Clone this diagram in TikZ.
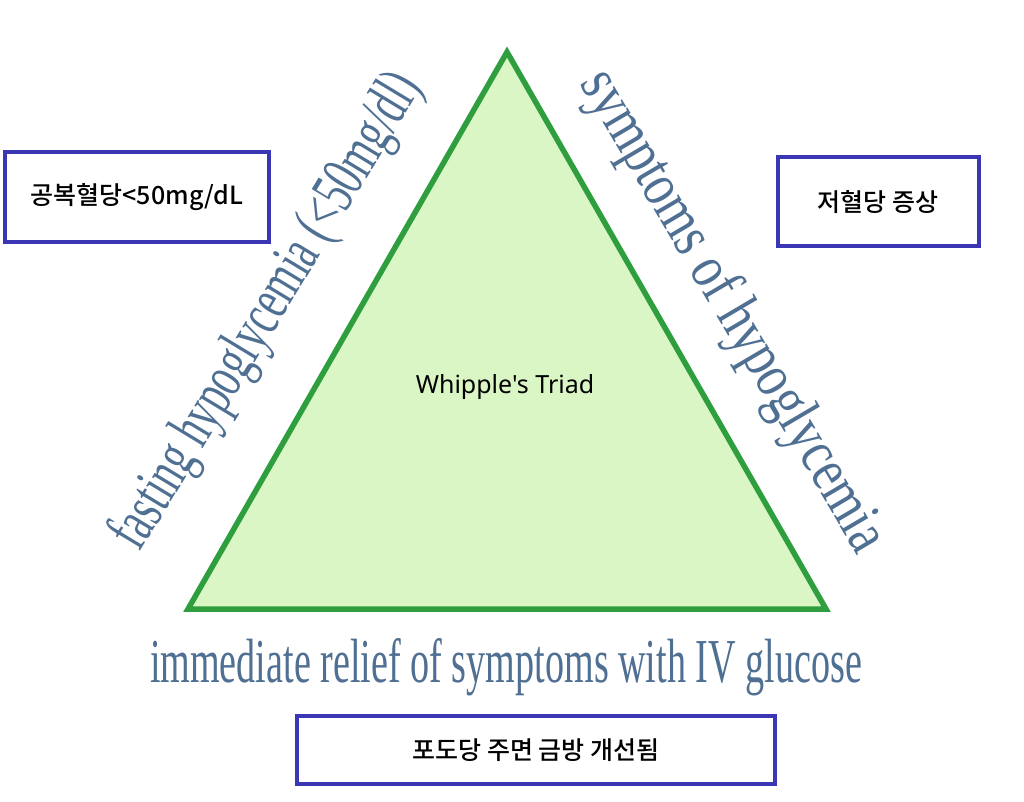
\documentclass[tikz,border=0pt]{standalone}
\usepackage{fontspec}
\setmainfont{Liberation Serif}
\newfontfamily\kr{Noto Sans CJK KR Medium}
\newfontfamily\sans{Noto Sans}
\usepackage{graphicx}
\definecolor{tgreen}{HTML}{2E9E3E}
\definecolor{tfill}{HTML}{D9F6C4}
\definecolor{bblue}{HTML}{3A36B4}
\definecolor{steel}{HTML}{4F6F93}
\begin{document}
\begin{tikzpicture}[x=1pt,y=-1pt,
  box/.style={draw=bblue,line width=3.5pt,fill=white},
  kt/.style={font=\kr\fontsize{25}{30}\selectfont},
  lbl/.style={text=steel,inner sep=0pt}]
\useasboundingbox (0,0) rectangle (1024,801);
\fill[white] (0,0) rectangle (1024,801);
\coordinate (A) at (507,52);
\coordinate (L) at (188,609);
\coordinate (R) at (826,609);
\draw[fill=tfill,draw=tgreen,line width=5.5pt,line join=miter] (A) -- (L) -- (R) -- cycle;
\node[font=\sans\bfseries\fontsize{25}{30}\selectfont] (t) at (505,387) {Whipple's Triad};
\draw[box] (5,152) rectangle (269,242);
\node[kt] (b1) at (137,197) {공복혈당<50mg/dL};
\draw[box] (778,157) rectangle (979,246);
\node[kt] (b2) at (878,202) {저혈당 증상};
\draw[box] (297,716) rectangle (775,784);
\node[kt] (b3) at (536,750) {포도당 주면 금방 개선됨};
\node[lbl,rotate=58.8] (ls) at (268,312) {\resizebox{545pt}{44pt}{fasting hypoglycemia (<50mg/dl)}};
\node[lbl,rotate=-59.5] (rs) at (732,312) {\resizebox{548pt}{44pt}{symptoms of hypoglycemia}};
\node[lbl] (bs) at (506,667) {\resizebox{712pt}{44pt}{immediate relief of symptoms with IV glucose}};
\end{tikzpicture}
\end{document}
